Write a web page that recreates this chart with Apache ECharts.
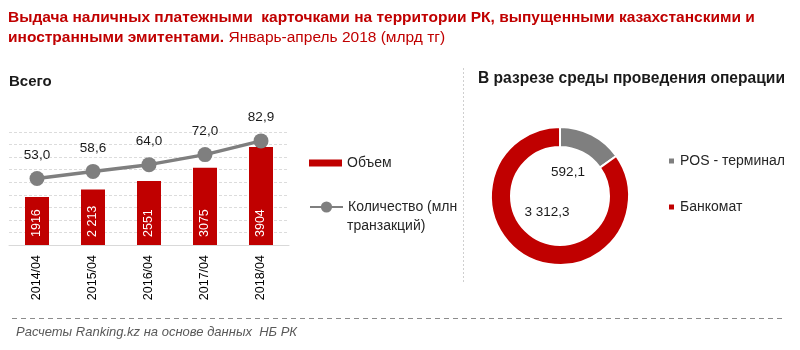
<!DOCTYPE html>
<html><head><meta charset="utf-8">
<script src="https://cdn.jsdelivr.net/npm/echarts@6/dist/echarts.min.js"></script>
<style>html,body{margin:0;padding:0;background:#fff}#c{width:800px;height:350px}</style>
</head><body><div id="c"></div>
<script>
var categories = ['2014/04','2015/04','2016/04','2017/04','2018/04'];
var volume = [1916, 2213, 2551, 3075, 3904];
var volumeLabels = ['1916','2 213','2551','3075','3904'];
var count = [53.0, 58.6, 64.0, 72.0, 82.9];
var pieNames = ['POS - терминал','Банкомат'];
var pieValues = [592.1, 3312.3];

function fmt(v, d){
  var s = v.toFixed(d).split('.');
  var ip = s[0].replace(/\B(?=(\d{3})+(?!\d))/g, ' ');
  return s.length > 1 ? ip + ',' + s[1] : ip;
}
var FONT = 'Liberation Sans, Arial, sans-serif';
var RED = '#c00000', GRAY = '#7f7f7f';

var chart = echarts.init(document.getElementById('c'), null, {renderer:'canvas'});
chart.setOption({
  animation:false,
  textStyle:{fontFamily:FONT},
  title:[
    {left:8, top:8, padding:0, text:'Выдача наличных платежными  карточками на территории РК, выпущенными казахстанскими и\n{b|иностранными эмитентами.} {n|Январь-апрель 2018 (млрд тг)}',
     textStyle:{fontFamily:FONT, fontSize:15.5, fontWeight:'bold', color:RED, lineHeight:20,
       rich:{b:{fontFamily:FONT,fontSize:15.5,fontWeight:'bold',color:RED,lineHeight:20},
             n:{fontFamily:FONT,fontSize:15.5,fontWeight:'normal',color:RED,lineHeight:20}}}},
    {left:9, top:74, padding:0, text:'Всего', textStyle:{fontFamily:FONT,fontSize:15,fontWeight:'bold',color:'#1a1a1a'}},
    {left:478, top:71, padding:0, text:'В разрезе среды проведения операции', textStyle:{fontFamily:FONT,fontSize:15.6,fontWeight:'bold',color:'#1a1a1a'}}
  ],
  legend:[
    {left:309, top:156, padding:0, orient:'vertical', data:[{name:'Объем', icon:'rect'}], itemWidth:33, itemHeight:7,
     textStyle:{fontFamily:FONT,fontSize:14,color:'#262626'}, selectedMode:false},
    {left:309, top:200, padding:0, orient:'vertical', data:['Количество (млн транзакций)'], itemWidth:33, itemHeight:14,
     formatter:function(){return 'Количество (млн';},
     textStyle:{fontFamily:FONT,fontSize:14,color:'#262626'}, selectedMode:false},
    {left:667, top:154, padding:0, orient:'vertical', data:pieNames, icon:'rect', itemWidth:7, itemHeight:7, itemGap:32,
     textStyle:{fontFamily:FONT,fontSize:14,color:'#262626'}, selectedMode:false}
  ],
  grid:{left:9, top:132, width:280, height:113, containLabel:false},
  xAxis:{type:'category', data:categories,
    axisLine:{lineStyle:{color:'#d9d9d9'}}, axisTick:{show:false},
    axisLabel:{rotate:90, margin:10, fontFamily:FONT, fontSize:12.5, color:'#000'}},
  yAxis:[
    {type:'value', min:0, max:4500, interval:500, axisLabel:{show:false}, axisLine:{show:false}, axisTick:{show:false},
     splitLine:{lineStyle:{color:'#dcdcdc', type:[3,2]}}},
    {type:'value', min:0, max:90, interval:10, show:false, splitLine:{show:false}}
  ],
  series:[
    {name:'Объем', type:'bar', data:volume, barWidth:24, itemStyle:{color:RED}, yAxisIndex:0,
     label:{show:true, position:'insideBottom', distance:8, rotate:90, align:'left', verticalAlign:'middle',
       color:'#fff', fontFamily:FONT, fontSize:12.5,
       formatter:function(p){return volumeLabels[p.dataIndex];}}},
    {name:'Количество (млн транзакций)', type:'line', data:count, yAxisIndex:1,
     lineStyle:{color:GRAY, width:3.5}, itemStyle:{color:GRAY}, symbol:'circle', symbolSize:15,
     label:{show:true, position:'top', distance:9, color:'#1a1a1a', fontFamily:FONT, fontSize:13.5,
       formatter:function(p){return fmt(p.value,1);}}},
    {type:'pie', center:[560,196], radius:[49,69], startAngle:90, clockwise:true,
     data:pieNames.map(function(n,i){return {name:n, value:pieValues[i]};}),
     color:[GRAY, RED], itemStyle:{borderColor:'#fff', borderWidth:2},
     label:{show:false}, labelLine:{show:false}, emphasis:{disabled:true}}
  ],
  graphic:[
    {type:'line', shape:{x1:463.5,y1:68,x2:463.5,y2:283}, style:{stroke:'#cfcfcf', lineWidth:1, lineDash:[2,2]}},
    {type:'line', shape:{x1:12,y1:318.5,x2:783,y2:318.5}, style:{stroke:'#8c8c8c', lineWidth:1, lineDash:[5,4]}},
    {type:'text', x:347, y:226, style:{text:'транзакций)', font:'14px '+FONT, fill:'#262626', textVerticalAlign:'middle'}},
    {type:'text', left:16, top:326, style:{text:'Расчеты Ranking.kz на основе данных  НБ РК', font:'italic 13px '+FONT, fill:'#595959'}},
    {type:'text', x:568, y:172, style:{text:fmt(pieValues[0],1), font:'13.5px '+FONT, fill:'#1a1a1a', textAlign:'center', textVerticalAlign:'middle'}},
    {type:'text', x:547, y:212, style:{text:fmt(pieValues[1],1), font:'13.5px '+FONT, fill:'#1a1a1a', textAlign:'center', textVerticalAlign:'middle'}}
  ]
});
</script></body></html>
